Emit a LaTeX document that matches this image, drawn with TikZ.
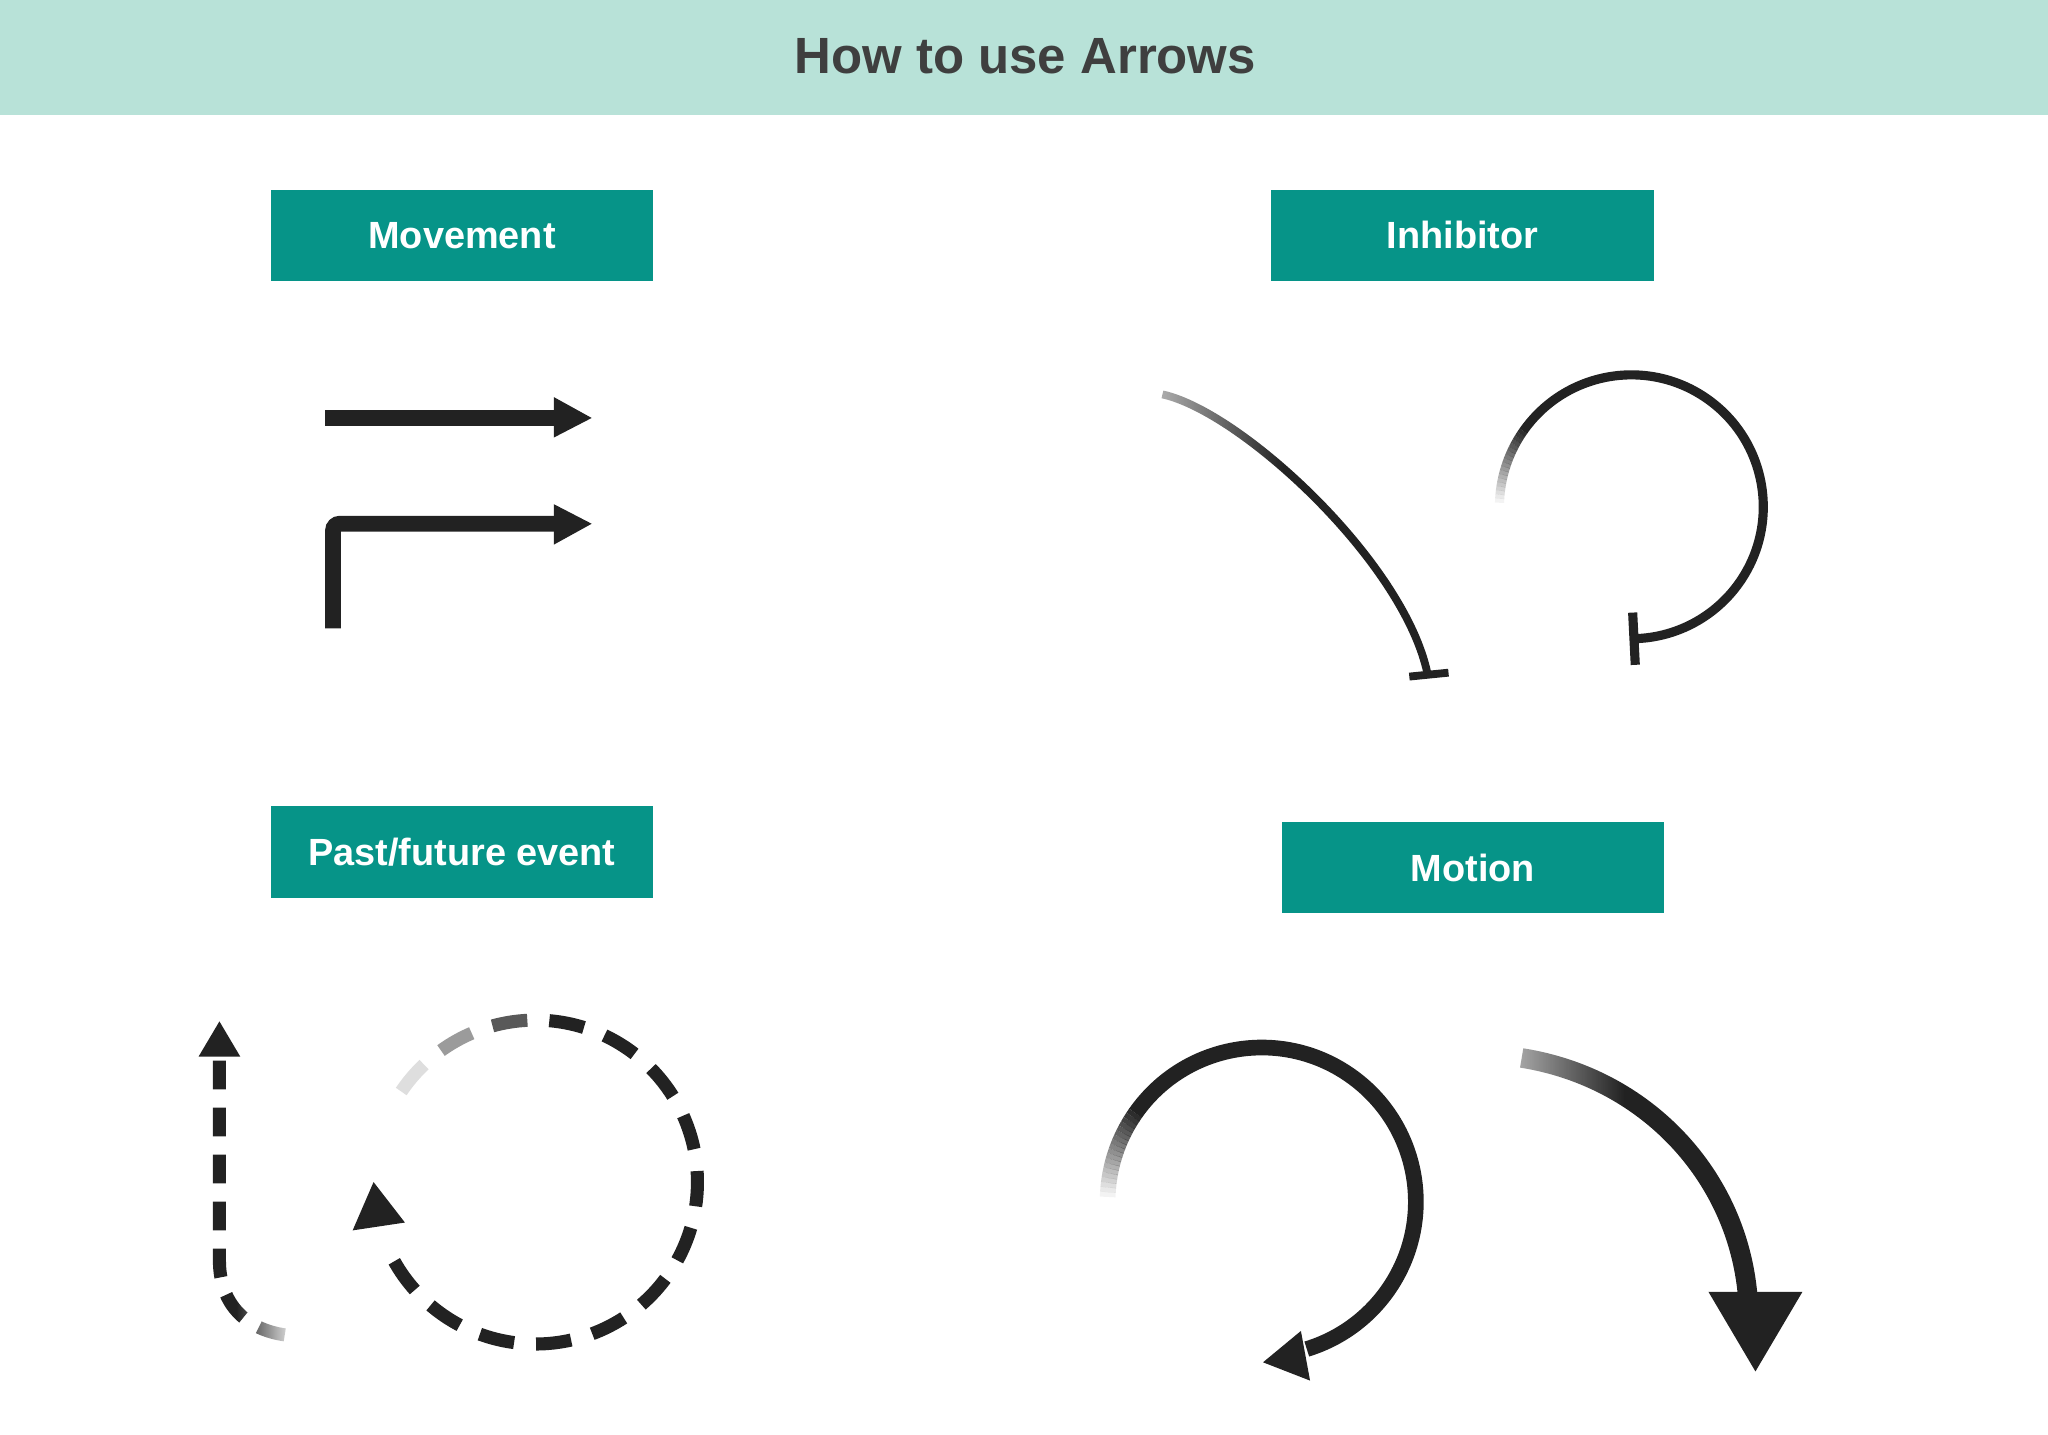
\documentclass[tikz,border=0pt]{standalone}
\usepackage{fontspec}
\setmainfont{Liberation Sans}
\usetikzlibrary{fadings}
\definecolor{bar}{HTML}{B8E2D8}
\definecolor{teal}{HTML}{069488}
\definecolor{ink}{HTML}{222222}
\definecolor{ttl}{HTML}{3F3F3F}
\pgfdeclarehorizontalshading{shB}{100bp}{color(0bp)=(transparent!100); color(12bp)=(transparent!100); color(48bp)=(transparent!0); color(100bp)=(transparent!0)}
\pgfdeclarefading{fadeB}{\pgfuseshading{shB}}
\pgfdeclarehorizontalshading{shC}{100bp}{color(0bp)=(transparent!0); color(40bp)=(transparent!0); color(80bp)=(transparent!100); color(100bp)=(transparent!100)}
\pgfdeclarefading{fadeC}{\pgfuseshading{shC}}
\tikzset{
  label/.style={fill=teal,text=white,font=\bfseries\fontsize{29}{32}\selectfont,minimum width=293pt,minimum height=70pt,anchor=north west,inner sep=0pt},
  stroke/.style={draw=ink,line width=#1},
  tip/.style={fill=ink}
}
\begin{document}
\begin{tikzpicture}[x=1pt,y=-1pt]
\useasboundingbox (0,0) rectangle (1568,1098);
\fill[white] (0,0) rectangle (1568,1098);
\fill[bar] (0,0) rectangle (1568,88);
\node[text=ttl,font=\bfseries\fontsize{39}{44}\selectfont] (title) at (785,43) {How to use Arrows};
\node[label] (mov) at (207,145) {Movement};
\node[label] (inh) at (973,145) {Inhibitor};
\node[label] (past) at (207,617) {Past/future event};
\node[label] (mot) at (981,629) {Motion};
% Movement
\draw[stroke=12pt] (249,320) -- (426,320);
\fill[tip] (424,304) -- (453,320) -- (424,335) -- cycle;
\draw[stroke=12pt,rounded corners=5pt] (255,481) -- (255,401) -- (426,401);
\fill[tip] (424,386) -- (453,401) -- (424,417) -- cycle;
% Inhibitor
\draw[stroke=6pt,path fading=fadeB] (890,302) .. controls (950,315) and (1075,430) .. (1093,516);
\draw[stroke=6pt] (1079,518) -- (1109,515);
\foreach \k in {0,...,19}{
  \pgfmathsetmacro{\a}{180+1.75*\k}
  \draw[draw=ink,draw opacity=\k/20,line width=7pt] ([shift={(\a:101)}]1249,388) arc[start angle=\a,end angle=\a+1.8,radius=101];
}
\draw[stroke=7pt] ([shift={(215:101)}]1249,388) arc[start angle=215,end angle=448,radius=101];
\draw[stroke=7pt] (1250,469) -- (1252,509);
% Motion
\foreach \k in {0,...,19}{
  \pgfmathsetmacro{\a}{180+1.75*\k}
  \draw[draw=ink,draw opacity=\k/20,line width=12pt] ([shift={(\a:118)}]966,920) arc[start angle=\a,end angle=\a+1.8,radius=118];
}
\draw[stroke=12pt] ([shift={(215:118)}]966,920) arc[start angle=215,end angle=433,radius=118];
\fill[tip] (996,1019) -- (967,1043) -- (1003,1057) -- cycle;
\draw[stroke=15pt,path fading=fadeB] (1165,810) .. controls (1260,825) and (1330,900) .. (1338,992);
\fill[tip] (1308,989) -- (1380,989) -- (1344,1050) -- cycle;
% Past/future
\draw[stroke=10pt,dash pattern=on 22pt off 14pt,path fading=fadeC] (168,812) -- (168,965) .. controls (168,1000) and (190,1018) .. (218,1022);
\fill[tip] (152,809) -- (168,782) -- (184,809) -- cycle;
\foreach \i in {0,...,14}{
  \pgfmathsetmacro{\op}{min(1,0.15+0.3*\i)}
  \pgfmathsetmacro{\a}{214+20.3*\i}
  \draw[draw=ink,draw opacity=\op,line width=10pt] ([shift={(\a:124)}]410,905) arc[start angle=\a,end angle=\a+12.5,radius=124];
}
\fill[tip] (270,942) -- (286,905) -- (310,936) -- cycle;
\end{tikzpicture}
\end{document}
